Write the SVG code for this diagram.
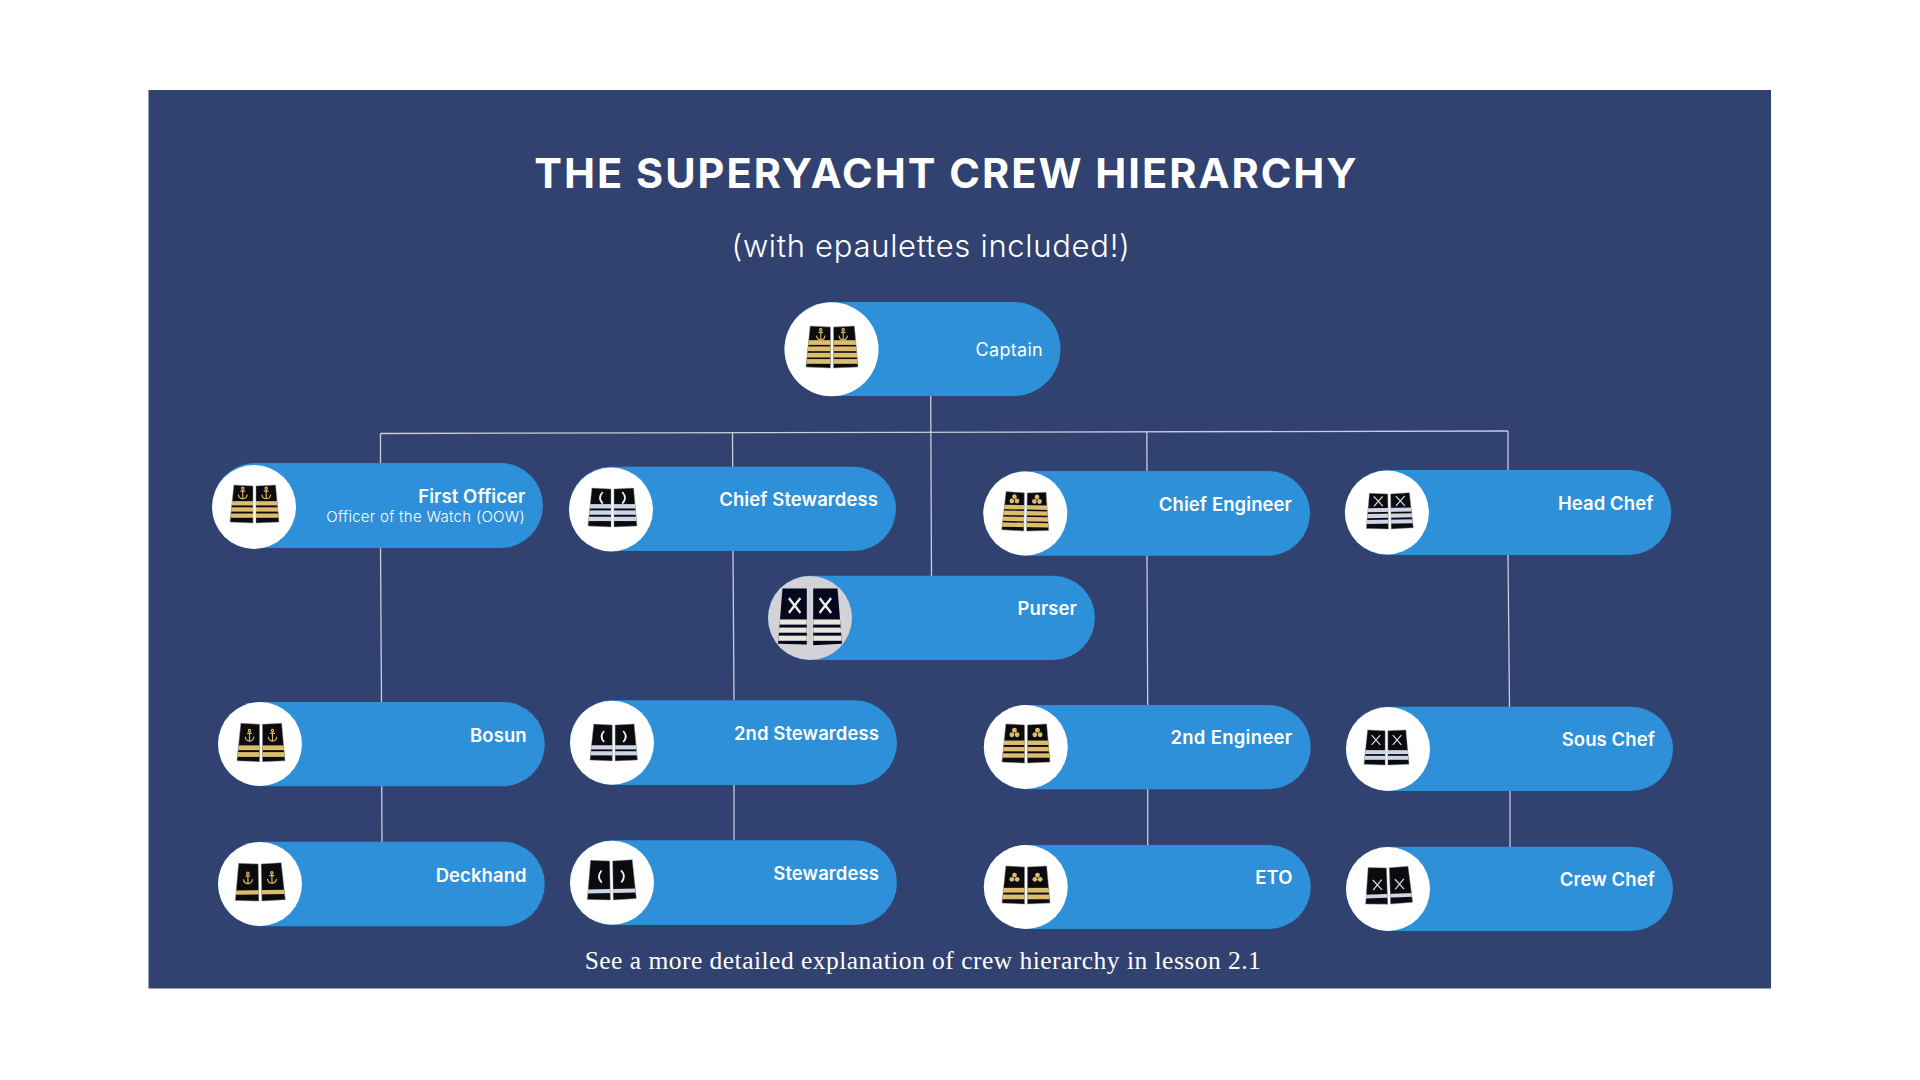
<svg xmlns="http://www.w3.org/2000/svg" xmlns:xlink="http://www.w3.org/1999/xlink" width="1920" height="1080" viewBox="0 0 1920 1080">
<style>
text{fill:#fff;font-family:Inter,"Liberation Sans",sans-serif}
.pill{fill:#2d90d8}
.disc{fill:#fff}
.lbl{font-size:18.500px;font-weight:600;letter-spacing:.08px;text-anchor:end}
.sub{font-size:15px;font-weight:300;letter-spacing:.28px;text-anchor:end}
.con{stroke:#c9cdda;stroke-width:1.3;fill:none}
.strap{fill:#0b0b0f;stroke:#8a8a90;stroke-width:1}
.gold{fill:#dcbd6e}
.silver{fill:#cdd5e6}
.cream{fill:#e9e7dc}
.ga{fill:none;stroke:#d8b865;stroke-width:2.400}
.cr{fill:none;stroke:#f2f4fa;stroke-width:3.600}
.xx{fill:none;stroke:#d9dde8;stroke-width:2.600}
</style>
<defs>
<clipPath id="sc"><polygon points="-42,-40 -3,-38 -3,40 -50,38"/><polygon points="3,-38 43,-40 50,38 3,40"/></clipPath>
<clipPath id="psc"><polygon points="-43,-40 -5,-40 -5,36 -50,35"/><polygon points="5,-40 43,-40 50,35 5,37"/></clipPath>
<g id="straps"><polygon class="strap" points="-42,-40 -3,-38 -3,40 -50,38"/><polygon class="strap" points="3,-38 43,-40 50,38 3,40"/></g>
<g id="pstraps" fill="#05071e"><polygon points="-43,-40 -5,-40 -5,36 -50,35"/><polygon points="5,-40 43,-40 50,35 5,37"/></g>
<g id="g4" class="gold" clip-path="url(#sc)"><rect x="-52" y="-13" width="104" height="9"/><rect x="-52" y="-1" width="104" height="9"/><rect x="-52" y="11" width="104" height="9"/><rect x="-52" y="23" width="104" height="9"/></g>
<g id="g3" class="gold" clip-path="url(#sc)"><rect x="-52" y="-6" width="104" height="9"/><rect x="-52" y="7" width="104" height="9"/><rect x="-52" y="20" width="104" height="9"/></g>
<g id="g2" class="gold" clip-path="url(#sc)"><rect x="-52" y="6" width="104" height="10"/><rect x="-52" y="20" width="104" height="10"/></g>
<g id="g1" class="gold" clip-path="url(#sc)"><rect x="-52" y="17" width="104" height="9"/></g>
<g id="s3" class="silver" clip-path="url(#sc)"><rect x="-52" y="-7" width="104" height="9"/><rect x="-52" y="6" width="104" height="9"/><rect x="-52" y="19" width="104" height="9"/></g>
<g id="s2" class="silver" clip-path="url(#sc)"><rect x="-52" y="6" width="104" height="9"/><rect x="-52" y="19" width="104" height="9"/></g>
<g id="s1" class="silver" clip-path="url(#sc)"><rect x="-52" y="18" width="104" height="8"/></g>
<g id="p3" class="cream" clip-path="url(#psc)"><rect x="-52" y="2" width="104" height="7"/><rect x="-52" y="13" width="104" height="7"/><rect x="-52" y="24" width="104" height="7"/></g>
<g id="anc"><path class="ga" d="M-24,-10V10M-29,-5H-19M-33,2Q-32,11-24,11Q-16,11-15,2"/><circle cx="-24" cy="-11" r="2.400" class="ga"/><path class="ga" d="M24,-10V10M19,-5H29M15,2Q16,11,24,11Q32,11,33,2"/><circle cx="24" cy="-11" r="2.400" class="ga"/></g>
<g id="cres"><path class="cr" d="M-20,-12Q-31,0-20,12"/><path class="cr" d="M20,-12Q31,0,20,12"/></g>
<g id="cross"><path class="xx" d="M-33,-11L-14,11M-14,-11L-33,11M14,-11L33,11M33,-11L14,11"/></g>
<g id="pcross" fill="none" stroke="#eeeeea" stroke-width="3.600"><path d="M-33,-10L-15,10M-15,-10L-33,10M15,-10L33,10M33,-10L15,10"/></g>
<g id="tref" class="gold"><circle cx="-24" cy="-6" r="5"/><circle cx="-29.500" cy="3" r="5"/><circle cx="-18.500" cy="3" r="5"/><circle cx="24" cy="-6" r="5"/><circle cx="18.500" cy="3" r="5"/><circle cx="29.500" cy="3" r="5"/></g>
</defs>

<rect x="148.500" y="90" width="1622.500" height="898.500" fill="#324270"/>
<text x="946.500" y="187.500" font-size="41.500" font-weight="700" letter-spacing="2" text-anchor="middle">THE SUPERYACHT CREW HIERARCHY</text>
<text x="931" y="256.500" font-size="31" font-weight="300" letter-spacing=".7" text-anchor="middle">(with epaulettes included!)</text>
<text x="923" y="969" font-size="25.500" letter-spacing=".48" text-anchor="middle" style="font-family:'Liberation Serif',serif">See a more detailed explanation of crew hierarchy in lesson 2.1</text>

<g id="connectors">
<line class="con" x1="380.500" y1="433.500" x2="1508" y2="431"/>
<line class="con" x1="930.700" y1="396" x2="931.500" y2="576"/>
<line class="con" x1="380.500" y1="433.500" x2="380.500" y2="463"/>
<line class="con" x1="380.500" y1="548" x2="381.500" y2="702"/>
<line class="con" x1="381.700" y1="786" x2="382" y2="842"/>
<line class="con" x1="732.500" y1="433" x2="732.700" y2="467"/>
<line class="con" x1="733" y1="551" x2="734" y2="700"/>
<line class="con" x1="734" y1="785" x2="734" y2="840"/>
<line class="con" x1="1146.800" y1="431.500" x2="1147" y2="471"/>
<line class="con" x1="1147" y1="555" x2="1147.700" y2="705"/>
<line class="con" x1="1147.700" y1="789" x2="1147.700" y2="845"/>
<line class="con" x1="1508" y1="431" x2="1508" y2="470"/>
<line class="con" x1="1508" y1="555" x2="1509.500" y2="707"/>
<line class="con" x1="1510" y1="791" x2="1510" y2="847"/>
</g>

<g id="captain"><rect class="pill" x="784.500" y="302" width="276" height="94" rx="47"/><circle class="disc" cx="831.500" cy="349.300" r="47"/>
<g transform="translate(832,347) scale(.52,.525)"><use href="#straps"/><use href="#g4"/><use href="#anc" y="-26" transform="scale(.9)"/></g>
<text x="1043" y="356.200" font-size="18" letter-spacing=".3" text-anchor="end">Captain</text></g>

<g id="first-officer"><rect class="pill" x="212.500" y="463" width="330.500" height="85" rx="42.500"/><circle class="disc" cx="254" cy="507" r="42"/>
<g transform="translate(254.500,504) scale(.49,.475)"><use href="#straps"/><use href="#g3"/><use href="#anc" y="-22"/></g>
<text class="lbl" x="525.500" y="503">First Officer</text><text class="sub" x="525" y="521.500">Officer of the Watch (OOW)</text></g>

<g id="chief-stewardess"><rect class="pill" x="569" y="466.700" width="327" height="84.300" rx="42.150"/><circle class="disc" cx="611" cy="509.500" r="42"/>
<g transform="translate(612.500,507.500) scale(.49,.485)"><use href="#straps"/><use href="#s3"/><use href="#cres" y="-20"/></g>
<text class="lbl" x="878" y="505.700">Chief Stewardess</text></g>

<g id="purser"><rect class="pill" x="768" y="575.700" width="327" height="84.300" rx="42.150"/><circle cx="810" cy="618" r="42" fill="#d3d2d7"/>
<g transform="translate(810,618) scale(.64,.735)"><use href="#pstraps"/><use href="#p3"/><use href="#pcross" y="-17"/></g>
<text class="lbl" x="1077" y="615">Purser</text></g>

<g id="chief-engineer"><rect class="pill" x="983.300" y="471" width="326.700" height="84.700" rx="42.350"/><circle class="disc" cx="1025.300" cy="513.500" r="42"/>
<g transform="translate(1025.500,511.500) scale(.47,.49) rotate(1)"><use href="#straps"/><use href="#g4"/><use href="#tref" y="-24"/></g>
<text class="lbl" x="1292" y="511">Chief Engineer</text></g>

<g id="head-chef"><rect class="pill" x="1344.900" y="470" width="326.300" height="85" rx="42.500"/><circle class="disc" cx="1386.900" cy="512.500" r="42"/>
<g transform="translate(1389.500,511) scale(.47,.45) rotate(-1)"><use href="#straps"/><use href="#s3"/><use href="#cross" y="-22"/></g>
<text class="lbl" x="1653.500" y="510">Head Chef</text></g>

<g id="bosun"><rect class="pill" x="218" y="702" width="326.800" height="84.300" rx="42.150"/><circle class="disc" cx="260" cy="744" r="42"/>
<g transform="translate(261,742.500) scale(.48,.48)"><use href="#straps"/><use href="#g2"/><use href="#anc" y="-14"/></g>
<text class="lbl" x="526.700" y="741.700">Bosun</text></g>

<g id="deckhand"><rect class="pill" x="218" y="841.700" width="326.800" height="84.600" rx="42.300"/><circle class="disc" cx="260" cy="884" r="42"/>
<g transform="translate(260,882) scale(.5,.475) rotate(-1)"><use href="#straps"/><use href="#g1"/><use href="#anc" y="-8"/></g>
<text class="lbl" x="526.700" y="881.700">Deckhand</text></g>

<g id="second-stewardess"><rect class="pill" x="570" y="700.300" width="327" height="84.700" rx="42.350"/><circle class="disc" cx="612" cy="742.700" r="42"/>
<g transform="translate(613.700,742.500) scale(.475,.46)"><use href="#straps"/><use href="#s2"/><use href="#cres" y="-13"/></g>
<text class="lbl" x="879" y="740">2nd Stewardess</text></g>

<g id="stewardess"><rect class="pill" x="570" y="840.300" width="327" height="84.700" rx="42.350"/><circle class="disc" cx="612" cy="882.700" r="42"/>
<g transform="translate(611.500,880) scale(.49,.5) rotate(-1)"><use href="#straps"/><use href="#s1"/><use href="#cres" y="-7"/></g>
<text class="lbl" x="879" y="880">Stewardess</text></g>

<g id="second-engineer"><rect class="pill" x="983.800" y="705" width="327" height="84.300" rx="42.150"/><circle class="disc" cx="1025.800" cy="747" r="42"/>
<g transform="translate(1026,743.500) scale(.48,.49)"><use href="#straps"/><use href="#g3"/><use href="#tref" y="-21"/></g>
<text class="lbl" x="1292.500" y="744" style="letter-spacing:.3px">2nd Engineer</text></g>

<g id="eto"><rect class="pill" x="983.800" y="845" width="327" height="84" rx="42"/><circle class="disc" cx="1025.800" cy="887" r="42"/>
<g transform="translate(1026,885) scale(.48,.475)"><use href="#straps"/><use href="#g2"/><use href="#tref" y="-15"/></g>
<text class="lbl" x="1292.500" y="884">ETO</text></g>

<g id="sous-chef"><rect class="pill" x="1346" y="706.700" width="327" height="84.300" rx="42.150"/><circle class="disc" cx="1388" cy="749" r="42"/>
<g transform="translate(1386.500,747.500) scale(.45,.44)"><use href="#straps"/><use href="#s2"/><use href="#cross" y="-17"/></g>
<text class="lbl" x="1655" y="746">Sous Chef</text></g>

<g id="crew-chef"><rect class="pill" x="1346" y="846.700" width="327" height="84.300" rx="42.150"/><circle class="disc" cx="1388" cy="889" r="42"/>
<g transform="translate(1388.500,885.500) scale(.47,.465) rotate(-2)"><use href="#straps"/><use href="#s1"/><use href="#cross" y="-2"/></g>
<text class="lbl" x="1655" y="886">Crew Chef</text></g>
</svg>
